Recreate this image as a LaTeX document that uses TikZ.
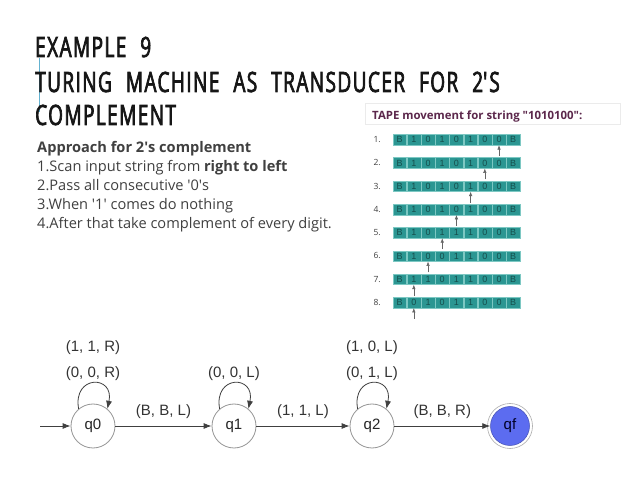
\documentclass[tikz,border=0pt]{standalone}
\usepackage{fontspec}
\setmainfont{Open Sans}
\newfontfamily\titlefont[FakeStretch=0.68,LetterSpace=5,WordSpace=2.2,FakeBold=2.5]{Open Sans}
\newfontfamily\diagfont{Liberation Sans}
\usetikzlibrary{matrix,arrows.meta,positioning}
\definecolor{titleblack}{RGB}{22,22,22}
\definecolor{barblue}{RGB}{100,178,208}
\definecolor{bodygray}{RGB}{64,64,64}
\definecolor{tapeplum}{RGB}{92,40,76}
\definecolor{cellteal}{RGB}{43,150,146}
\definecolor{celledge}{RGB}{125,200,195}
\definecolor{celltext}{RGB}{22,78,76}
\definecolor{stategray}{RGB}{150,150,150}
\definecolor{qfblue}{RGB}{92,108,240}
\newcommand{\cellw}{13.8pt}
\newcommand{\cellh}{10.5pt}
\tikzset{
    ttlsty/.style={anchor=base west,inner sep=0pt,text=titleblack,font=\titlefont\fontsize{28}{34}\selectfont},
    apprsty/.style={anchor=base west,inner sep=0pt,text=bodygray,font=\fontsize{14.6}{19}\selectfont},
    tapehdsty/.style={anchor=base west,inner sep=0pt,text=tapeplum,font=\bfseries\fontsize{11.4}{13}\selectfont},
    cellsty/.style={draw=celledge,fill=cellteal,rectangle,line width=0.4pt,minimum width=\cellw,minimum height=\cellh,inner sep=0pt,anchor=center,text=celltext,font=\diagfont\fontsize{9}{10}\selectfont},
    numsty/.style={draw=none,fill=none,text width=19pt,align=left,inner sep=0pt,anchor=center,text=bodygray,font=\fontsize{8.5}{9}\selectfont},
    headsty/.style={-{Latex[length=4.5pt,width=3.5pt]},line width=0.6pt,draw=black!60},
    statesty/.style={draw=stategray,fill=white,circle,line width=0.8pt,minimum size=44pt,inner sep=0pt,text=black!85,font=\diagfont\fontsize{15}{18}\selectfont},
    finsty/.style={statesty,draw=qfblue!75!black,fill=qfblue,line width=0.5pt,minimum size=39pt,text=black!85!blue},
    ringsty/.style={draw=stategray!80,line width=0.6pt},
    edgesty/.style={-{Latex[length=8pt,width=6pt]},draw=black!75,line width=0.8pt},
    loopsty/.style={edgesty,out=100,in=78,looseness=3.1},
    lblsty/.style={inner sep=1pt,text=black!80,font=\diagfont\fontsize{15}{18}\selectfont},
    elblsty/.style={lblsty,midway,above=6pt},
    boxsty/.style={draw=black!8,line width=0.6pt},
}

\begin{document}
\begin{tikzpicture}[x=1pt,y=1pt]
\path[use as bounding box,fill=white] (0,0) rectangle (638,-478);

% title
\draw[barblue,line width=1.2pt] (39.5,-58) -- (39.5,-112);
\node[ttlsty] (ttl1) at (35,-57) {EXAMPLE 9};
\node[ttlsty] (ttl2) at (35,-92) {TURING MACHINE AS TRANSDUCER FOR 2\textquotesingle S};
\node[ttlsty] (ttl3) at (35,-125) {COMPLEMENT};

% approach
\foreach \i/\txt in {1/{\textbf{Approach for 2\textquotesingle s complement}},
                     2/{1.Scan input string from \textbf{right to left}},
                     3/{2.Pass all consecutive \textquotesingle 0\textquotesingle s},
                     4/{3.When \textquotesingle 1\textquotesingle\ comes do nothing},
                     5/{4.After that take complement of every digit.}}
  \node[apprsty] (appr\i) at (37,{-153-(\i-1)*19}) {\txt};

% tape movement
\draw[boxsty] (365,-103) rectangle (620,-124);
\node[tapehdsty] (tapehd) at (372,-120) {TAPE movement for string \textquotedbl 1010100\textquotedbl :};
\matrix (tape) [matrix of nodes,
  nodes = {cellsty},
  column 1/.style={nodes={numsty}},
  row sep=12.36pt,
  column sep=0pt,
  anchor=north west,
  ampersand replacement=\&] at (370,-130.7)
{
1. \& B \& 1 \& 0 \& 1 \& 0 \& 1 \& 0 \& 0 \& B \\
2. \& B \& 1 \& 0 \& 1 \& 0 \& 1 \& 0 \& 0 \& B \\
3. \& B \& 1 \& 0 \& 1 \& 0 \& 1 \& 0 \& 0 \& B \\
4. \& B \& 1 \& 0 \& 1 \& 0 \& 1 \& 0 \& 0 \& B \\
5. \& B \& 1 \& 0 \& 1 \& 1 \& 1 \& 0 \& 0 \& B \\
6. \& B \& 1 \& 0 \& 0 \& 1 \& 1 \& 0 \& 0 \& B \\
7. \& B \& 1 \& 1 \& 0 \& 1 \& 1 \& 0 \& 0 \& B \\
8. \& B \& 0 \& 1 \& 0 \& 1 \& 1 \& 0 \& 0 \& B \\
};
\foreach \r/\c in {1/9,2/8,3/7,4/6,5/5,6/4,7/3,8/3} {
  \coordinate (hd\r) at ([yshift=-11pt]tape-\r-\c.south);
  \draw[headsty] (hd\r) -- (tape-\r-\c.south);
}

% state diagram
\node[statesty] (q0) at (93,-426) {q0};
\node[statesty] (q1) at (234,-426) {q1};
\node[statesty] (q2) at (372,-426) {q2};
\node[finsty] (qf) at (510,-426) {qf};
\draw[ringsty] (qf.center) circle[radius=22.5pt];

\coordinate (start) at (40,-426);
\draw[edgesty] (start) -- (q0);
\draw[edgesty] (q0) -- node[elblsty] (e01) {(B, B, L)} (q1);
\draw[edgesty] (q1) -- node[elblsty] (e12) {(1, 1, L)} (q2);
\draw[edgesty] (q2) -- node[elblsty] (e2f) {(B, B, R)} (qf);

\draw[loopsty] (q0.130) to (q0.50);
\draw[loopsty] (q1.130) to (q1.50);
\draw[loopsty] (q2.130) to (q2.50);

\node[lblsty,above=22pt of q0] (q0lo) {(0, 0, R)};
\node[lblsty,above=9pt of q0lo] (q0hi) {(1, 1, R)};
\node[lblsty,above=22pt of q1] (q1lo) {(0, 0, L)};
\node[lblsty,above=22pt of q2] (q2lo) {(0, 1, L)};
\node[lblsty,above=9pt of q2lo] (q2hi) {(1, 0, L)};
\end{tikzpicture}
\end{document}
